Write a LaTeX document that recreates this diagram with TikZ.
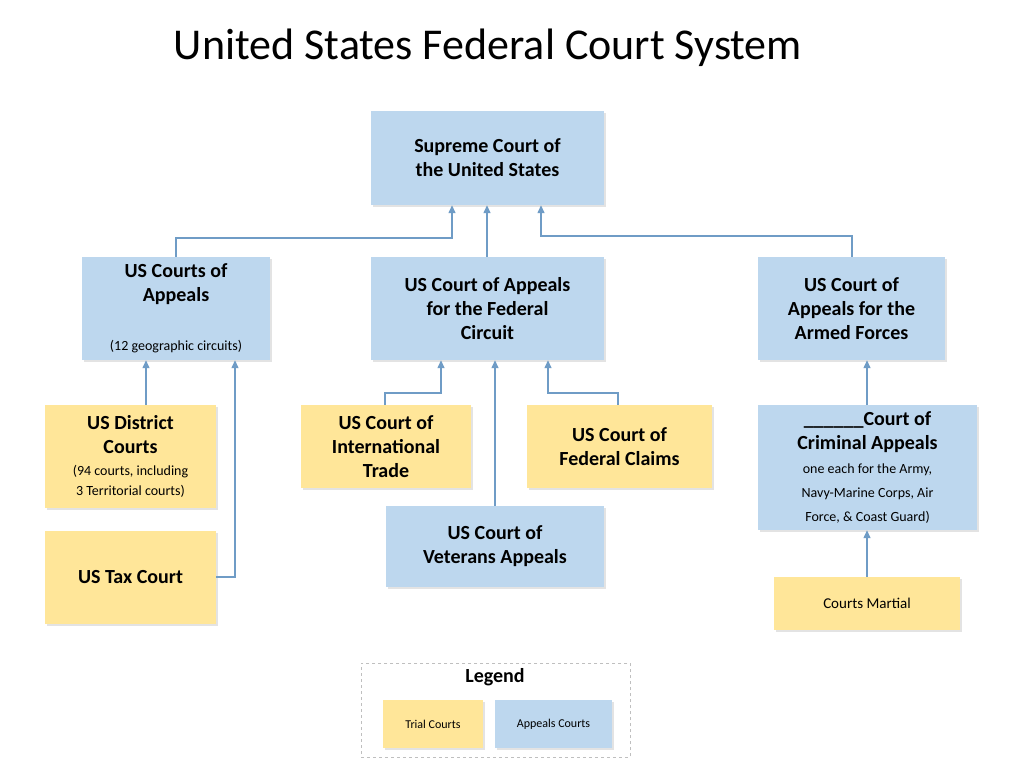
\documentclass[tikz,border=0pt]{standalone}
\usepackage{fontspec}
\setmainfont{Carlito}
\usetikzlibrary{arrows.meta,shadows}
\definecolor{bl}{HTML}{BDD7EE}
\definecolor{ye}{HTML}{FFE699}
\definecolor{ln}{HTML}{6F9CC6}
\newcommand{\bx}[7]{\node[#6,minimum width={#4-#2},minimum height={#5-#3}] (#1) at ({(#2+#4)/2},{(#3+#5)/2}) {#7};}
\begin{document}
\begin{tikzpicture}[x=1pt,y=-1pt,
 base/.style={inner sep=0pt,align=center,font=\fontsize{20}{24}\selectfont\bfseries,drop shadow={shadow xshift=1.5pt,shadow yshift=-1.5pt,fill=black!18,opacity=0.6}},
 ab/.style={base,fill=bl},
 tb/.style={base,fill=ye},
 con/.style={draw=ln,line width=1.3pt,-{Triangle[width=7pt,length=8pt]}},
 sm/.style={font=\fontsize{14}{20}\selectfont\mdseries}]
\useasboundingbox (0,0) rectangle (1024,768);
\fill[white] (0,0) rectangle (1024,768);
\node[font=\fontsize{44}{50}\selectfont] (title) at (488,48) {United States Federal Court System};
\bx{sc}{371}{111}{604}{205}{ab}{Supreme Court of\\the United States}
\bx{ca}{82}{257}{270}{360}{ab}{}
\node[align=center,font=\fontsize{20}{24}\selectfont\bfseries] (cat) at (176,284) {US Courts of\\Appeals};
\node[sm] (cas) at (176,347) {(12 geographic circuits)};
\bx{fc}{371}{257}{604}{360}{ab}{US Court of Appeals\\for the Federal\\Circuit}
\bx{af}{758}{257}{945}{360}{ab}{US Court of\\Appeals for the\\Armed Forces}
\bx{dc}{45}{405}{216}{508}{tb}{US District\\Courts\\[-2pt]{\fontsize{14}{22}\selectfont\mdseries (94 courts, including}\\[-4pt]{\fontsize{14}{20}\selectfont\mdseries 3 Territorial courts)}}
\bx{tc}{45}{531}{216}{624}{tb}{US Tax Court}
\bx{it}{301}{405}{471}{488}{tb}{US Court of\\International\\Trade}
\bx{cl}{527}{405}{712}{488}{tb}{US Court of\\Federal Claims}
\bx{va}{386}{506}{604}{587}{ab}{US Court of\\Veterans Appeals}
\bx{cr}{758}{405}{977}{530}{ab}{\_\_\_\_\_\_Court of\\Criminal Appeals\\{\fontsize{14}{20}\selectfont\mdseries one each for the Army,}\\{\fontsize{14}{20}\selectfont\mdseries Navy-Marine Corps, Air}\\{\fontsize{14}{20}\selectfont\mdseries Force, \& Coast Guard)}}
\bx{cm}{774}{577}{960}{630}{tb}{\mdseries\fontsize{15}{18}\selectfont Courts Martial}
\node[draw=black!25,dashed,line width=1pt,minimum width=269,minimum height=94,inner sep=0pt] (lg) at (495.5,710) {};
\node[font=\fontsize{20}{24}\selectfont\bfseries] (lgt) at (495,677) {Legend};
\bx{lt}{383}{700}{483}{748}{tb}{\mdseries\fontsize{12}{14}\selectfont Trial Courts}
\bx{la}{495}{700}{612}{748}{ab}{\mdseries\fontsize{12}{14}\selectfont Appeals Courts}
% connectors
\draw[con] (ca.north -| 176,0) |- (452,238) -- (sc.south -| 452,0);
\draw[con] (fc.north -| 487,0) -- (sc.south -| 487,0);
\draw[con] (af.north -| 852,0) |- (541,236) -- (sc.south -| 541,0);
\draw[con] (dc.north -| 146,0) -- (ca.south -| 146,0);
\draw[con] (tc.east |- 0,577) -| (ca.south -| 235,0);
\draw[con] (it.north -| 385,0) |- (441,393) -- (fc.south -| 441,0);
\draw[con] (va.north -| 495,0) -- (fc.south -| 495,0);
\draw[con] (cl.north -| 618,0) |- (548,393) -- (fc.south -| 548,0);
\draw[con] (cr.north -| 867,0) -- (af.south -| 867,0);
\draw[con] (cm.north -| 867,0) -- (cr.south -| 867,0);
\end{tikzpicture}
\end{document}
